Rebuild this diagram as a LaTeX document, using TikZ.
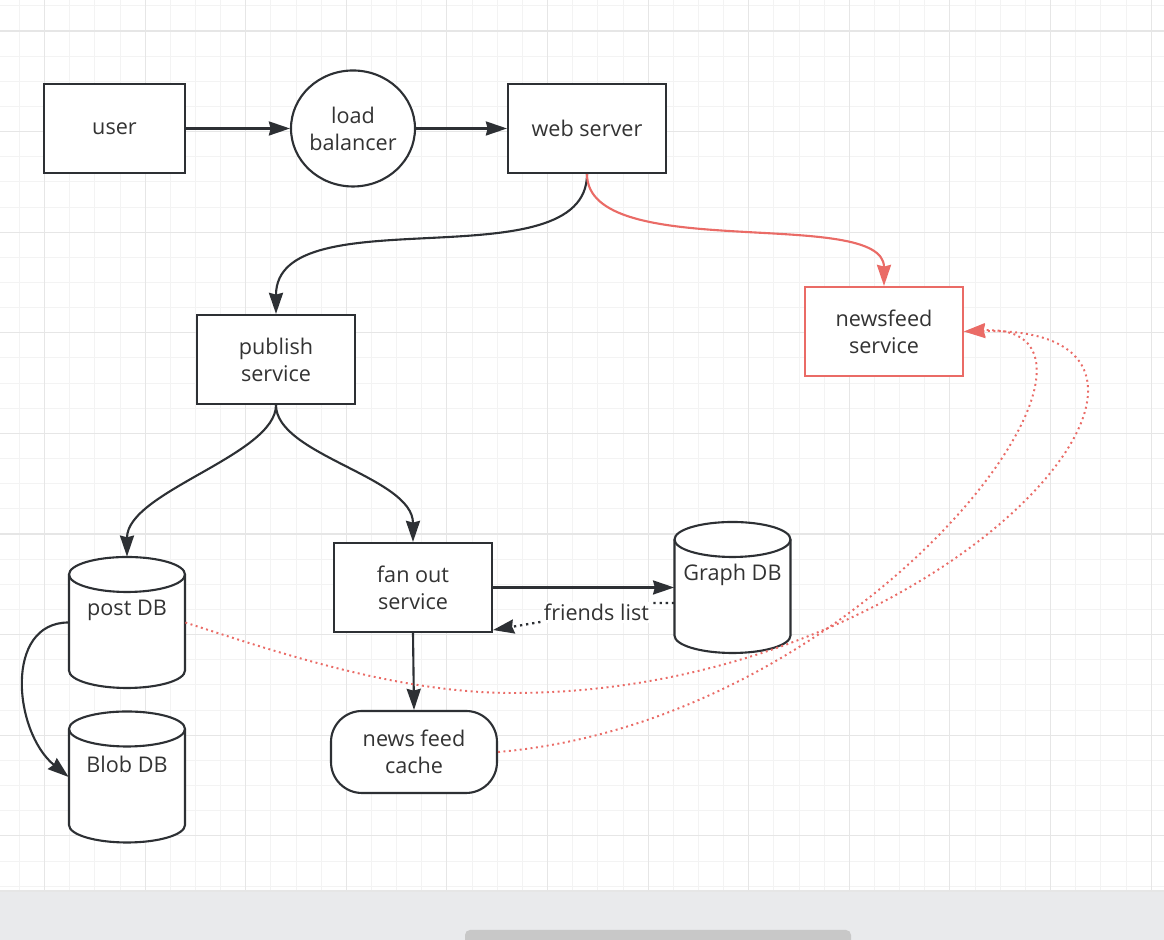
\documentclass[tikz,border=0pt]{standalone}
\usepackage{fontspec}
\setmainfont{Open Sans}
\usepackage{tikz}
\usetikzlibrary{arrows.meta, calc, positioning, shapes.geometric}
\definecolor{linegray}{RGB}{45, 48, 52}
\definecolor{textgray}{RGB}{51, 51, 51}
\definecolor{feedred}{RGB}{234, 107, 102}
\definecolor{gridlight}{RGB}{243, 243, 243}
\definecolor{griddark}{RGB}{230, 230, 230}
\definecolor{barbg}{RGB}{233, 234, 236}
\definecolor{thumbgray}{RGB}{200, 200, 200}

% cylinder outline for a database, centred on the given point
\newcommand{\dbcylinder}[1]{%
  \draw[linegray, line width=1.2pt, fill=white] ($(#1)+(-1.16,0.96)$) -- ++(0,-1.92)
    arc[start angle=180, end angle=360, x radius=1.16cm, y radius=0.35cm] -- ++(0,1.92)
    arc[start angle=0, end angle=180, x radius=1.16cm, y radius=0.35cm] -- cycle;
  \draw[linegray, line width=1.2pt] ($(#1)+(-1.16,0.96)$)
    arc[start angle=180, end angle=360, x radius=1.16cm, y radius=0.35cm];
}

\begin{document}
\begin{tikzpicture}[
  every node/.style={font=\fontsize{12.3}{15.3}\selectfont, text=textgray},
  box/.style={draw=linegray, line width=1.2pt, fill=white, align=center, minimum width=3.16cm, minimum height=1.78cm},
  redbox/.style={box, draw=feedred},
  dbbox/.style={minimum width=2.32cm, minimum height=2.62cm, inner sep=0pt},
  dbtext/.style={yshift=0.25cm},
  flow/.style={linegray, line width=1.2pt, -{Stealth[length=12pt, width=8pt, inset=1pt]}},
  redflow/.style={flow, feedred},
  dots/.style={flow, line width=1.3pt, dash pattern=on 1.3pt off 2.2pt},
  reddots/.style={redflow, line width=1.1pt, dash pattern=on 1.1pt off 2pt},
  gridminor/.style={gridlight, line width=0.5pt},
  gridmajor/.style={griddark, line width=0.6pt}
]
  \useasboundingbox (0,0) rectangle (23.28,18.8);

  % Canvas grid
  \fill[white] (0,0.98) rectangle (23.28,18.8);
  \foreach \i in {0,...,45} {
    \draw[gridminor] ({0.387+0.503*\i},0.98) -- ({0.387+0.503*\i},18.8);
  }
  \foreach \j in {0,...,35} {
    \draw[gridminor] (0,{18.683-0.503*\j}) -- (23.28,{18.683-0.503*\j});
  }
  \foreach \i in {0,...,11} {
    \draw[gridmajor] ({0.89+2.012*\i},0.98) -- ({0.89+2.012*\i},18.8);
  }
  \foreach \j in {0,...,8} {
    \draw[gridmajor] (0,{18.18-2.012*\j}) -- (23.28,{18.18-2.012*\j});
  }

  % Scroll bar
  \fill[barbg] (0,0) rectangle (23.28,0.98);
  \draw[griddark, line width=0.6pt] (0,0.98) -- (23.28,0.98);
  \fill[thumbgray, rounded corners=0.1cm] (9.3,-0.2) rectangle (17.02,0.2);

  % Request path
  \node[box, minimum width=2.82cm] (user) at (2.29,16.23) {user};
  \node[ellipse, draw=linegray, line width=1.2pt, fill=white, align=center, inner sep=0pt,
        minimum width=2.48cm, minimum height=2.32cm] (lb) at (7.06,16.23) {load\\balancer};
  \node[box] (ws) at (11.74,16.23) {web server};

  % Services
  \node[redbox] (nf) at (17.68,12.17) {newsfeed\\service};
  \node[box] (pub) at (5.52,11.61) {publish\\service};
  \node[box] (fo) at (8.26,7.05) {fan out\\service};
  \node[box, rounded corners=0.62cm, minimum width=3.32cm, minimum height=1.64cm] (cache) at (8.28,3.76) {news feed\\cache};

  % Databases
  \dbcylinder{14.65,7.05}
  \node[dbbox, label={[dbtext]center:Graph DB}] (gdb) at (14.65,7.05) {};
  \dbcylinder{2.54,6.35}
  \node[dbbox, label={[dbtext]center:post DB}] (postdb) at (2.54,6.35) {};
  \dbcylinder{2.54,3.26}
  \node[dbbox, label={[dbtext]center:Blob DB}] (blobdb) at (2.54,3.26) {};

  % Connectors
  \draw[flow] (user.east) -- (lb.west);
  \draw[flow] (lb.east) -- (ws.west);
  \draw[flow] (ws.south) .. controls +(0,-2.2) and +(0,2.4) .. (pub.north);
  \draw[redflow] (ws.south) .. controls +(0,-1.8) and +(0,1.6) .. (nf.north);
  \draw[flow] (pub.south) .. controls +(0,-1.0) and +(0,1.3) .. (postdb.north);
  \draw[flow] (pub.south) .. controls +(0,-1.0) and +(0,1.3) .. (fo.north);
  \draw[flow] (fo.east) -- (gdb.west);
  \draw[dots] ($(gdb.west)+(0,-0.31)$) -- ++(-0.44,0)
    -- node[pos=0.35, fill=white, inner sep=1pt] (fl) {friends list} ($(fo.south east)+(0,0.06)$);
  \draw[flow] (fo.south) -- (cache.north);
  \draw[flow] (postdb.west) .. controls +(-1.3,0) and +(-1.1,0.9) .. (blobdb.west);

  % Feed reads
  \coordinate (postbend) at (10.26,4.94);
  \draw[reddots] (postdb.east) .. controls (5.7,5.7) and (8.0,4.94) .. (postbend)
    .. controls (19,4.94) and (25.2,12.3) .. (nf.east);
  \draw[reddots] (cache.east) .. controls (17.5,4.4) and (23.2,12.4) .. (nf.east);
\end{tikzpicture}
\end{document}
